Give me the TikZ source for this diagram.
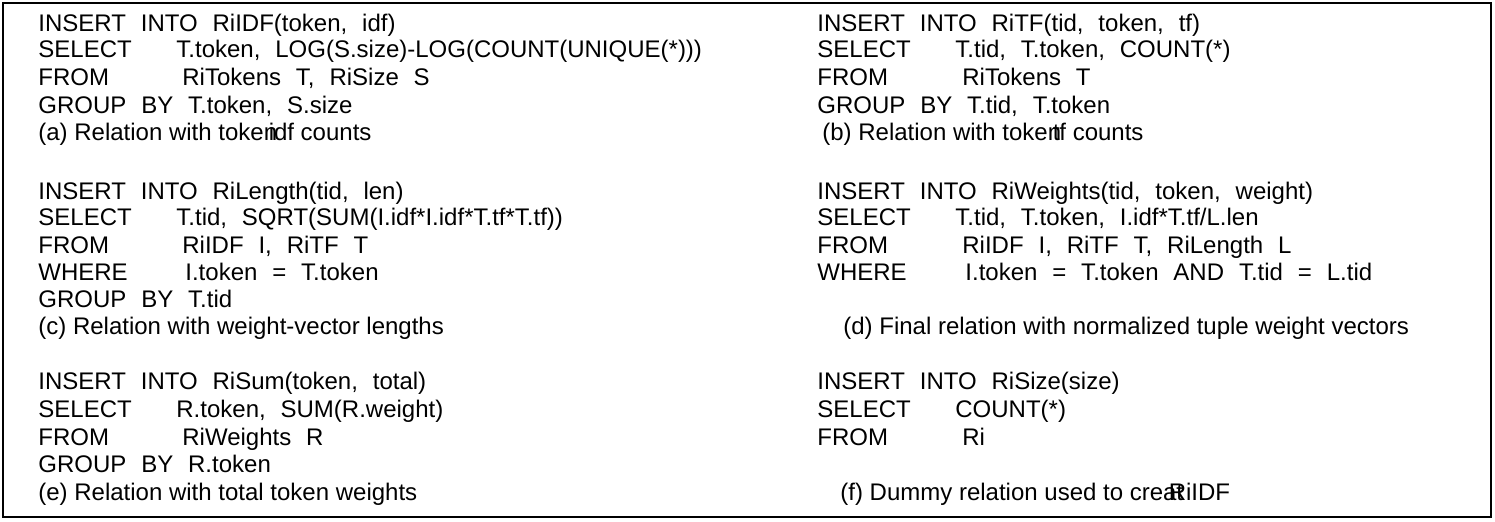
\documentclass[tikz,border=0pt]{standalone}
\usepackage{fontspec}
\setmainfont{Liberation Sans}
\usepackage{tikz}
\newcommand{\gap}{\hspace{0.62em}}
\begin{document}
\begin{tikzpicture}[x=0.5pt,y=-0.5pt,txt/.style={anchor=base west,inner sep=0pt,font=\fontsize{12pt}{14pt}\selectfont}]
\useasboundingbox (0,0) rectangle (1495,521);
\draw[line width=0.6pt] (3,3) rectangle (1491,517);
% (a)
\node[txt] (a1) at (38,31) {INSERT\gap INTO\gap RiIDF(token,\gap idf)};
\node[txt] (a2) at (38,57) {SELECT};
\node[txt] (a2v) at (176,57) {T.token,\gap LOG(S.size)-LOG(COUNT(UNIQUE(*)))};
\node[txt] (a3) at (38,85) {FROM};
\node[txt] (a3v) at (182,85) {RiTokens\gap T,\gap RiSize\gap S};
\node[txt] (a4) at (38,113) {GROUP\gap BY\gap T.token,\gap S.size};
\node[txt] (a5) at (38,140) {(a) Relation with token\hspace{-0.35em}idf counts};
% (b)
\node[txt] (b1) at (817,31) {INSERT\gap INTO\gap RiTF(tid,\gap token,\gap tf)};
\node[txt] (b2) at (817,57) {SELECT};
\node[txt] (b2v) at (955,57) {T.tid,\gap T.token,\gap COUNT(*)};
\node[txt] (b3) at (817,85) {FROM};
\node[txt] (b3v) at (962,85) {RiTokens\gap T};
\node[txt] (b4) at (817,113) {GROUP\gap BY\gap T.tid,\gap T.token};
\node[txt] (b5) at (822,140) {(b) Relation with token\hspace{-0.35em}tf counts};
% (c)
\node[txt] (c1) at (38,199) {INSERT\gap INTO\gap RiLength(tid,\gap len)};
\node[txt] (c2) at (38,225) {SELECT};
\node[txt] (c2v) at (176,225) {T.tid,\gap SQRT(SUM(I.idf*I.idf*T.tf*T.tf))};
\node[txt] (c3) at (38,253) {FROM};
\node[txt] (c3v) at (182,253) {RiIDF\gap I,\gap RiTF\gap T};
\node[txt] (c4) at (38,280) {WHERE};
\node[txt] (c4v) at (185,280) {I.token\gap =\gap T.token};
\node[txt] (c5) at (38,307) {GROUP\gap BY\gap T.tid};
\node[txt] (c6) at (38,334) {(c) Relation with weight-vector lengths};
% (d)
\node[txt] (d1) at (817,199) {INSERT\gap INTO\gap RiWeights(tid,\gap token,\gap weight)};
\node[txt] (d2) at (817,225) {SELECT};
\node[txt] (d2v) at (955,225) {T.tid,\gap T.token,\gap I.idf*T.tf/L.len};
\node[txt] (d3) at (817,253) {FROM};
\node[txt] (d3v) at (962,253) {RiIDF\gap I,\gap RiTF\gap T,\gap RiLength\gap L};
\node[txt] (d4) at (817,280) {WHERE};
\node[txt] (d4v) at (965,280) {I.token\gap =\gap T.token\gap AND\gap T.tid\gap =\gap L.tid};
\node[txt] (d5) at (843,334) {(d) Final relation with normalized tuple weight vectors};
% (e)
\node[txt] (e1) at (38,389) {INSERT\gap INTO\gap RiSum(token,\gap total)};
\node[txt] (e2) at (38,417) {SELECT};
\node[txt] (e2v) at (176,417) {R.token,\gap SUM(R.weight)};
\node[txt] (e3) at (38,445) {FROM};
\node[txt] (e3v) at (182,445) {RiWeights\gap R};
\node[txt] (e4) at (38,472) {GROUP\gap BY\gap R.token};
\node[txt] (e5) at (38,500) {(e) Relation with total token weights};
% (f)
\node[txt] (f1) at (817,389) {INSERT\gap INTO\gap RiSize(size)};
\node[txt] (f2) at (817,417) {SELECT};
\node[txt] (f2v) at (955,417) {COUNT(*)};
\node[txt] (f3) at (817,445) {FROM};
\node[txt] (f3v) at (962,445) {Ri};
\node[txt] (f4) at (840,500) {(f) Dummy relation used to creat\hspace{-0.6em}RiIDF};
\end{tikzpicture}
\end{document}
